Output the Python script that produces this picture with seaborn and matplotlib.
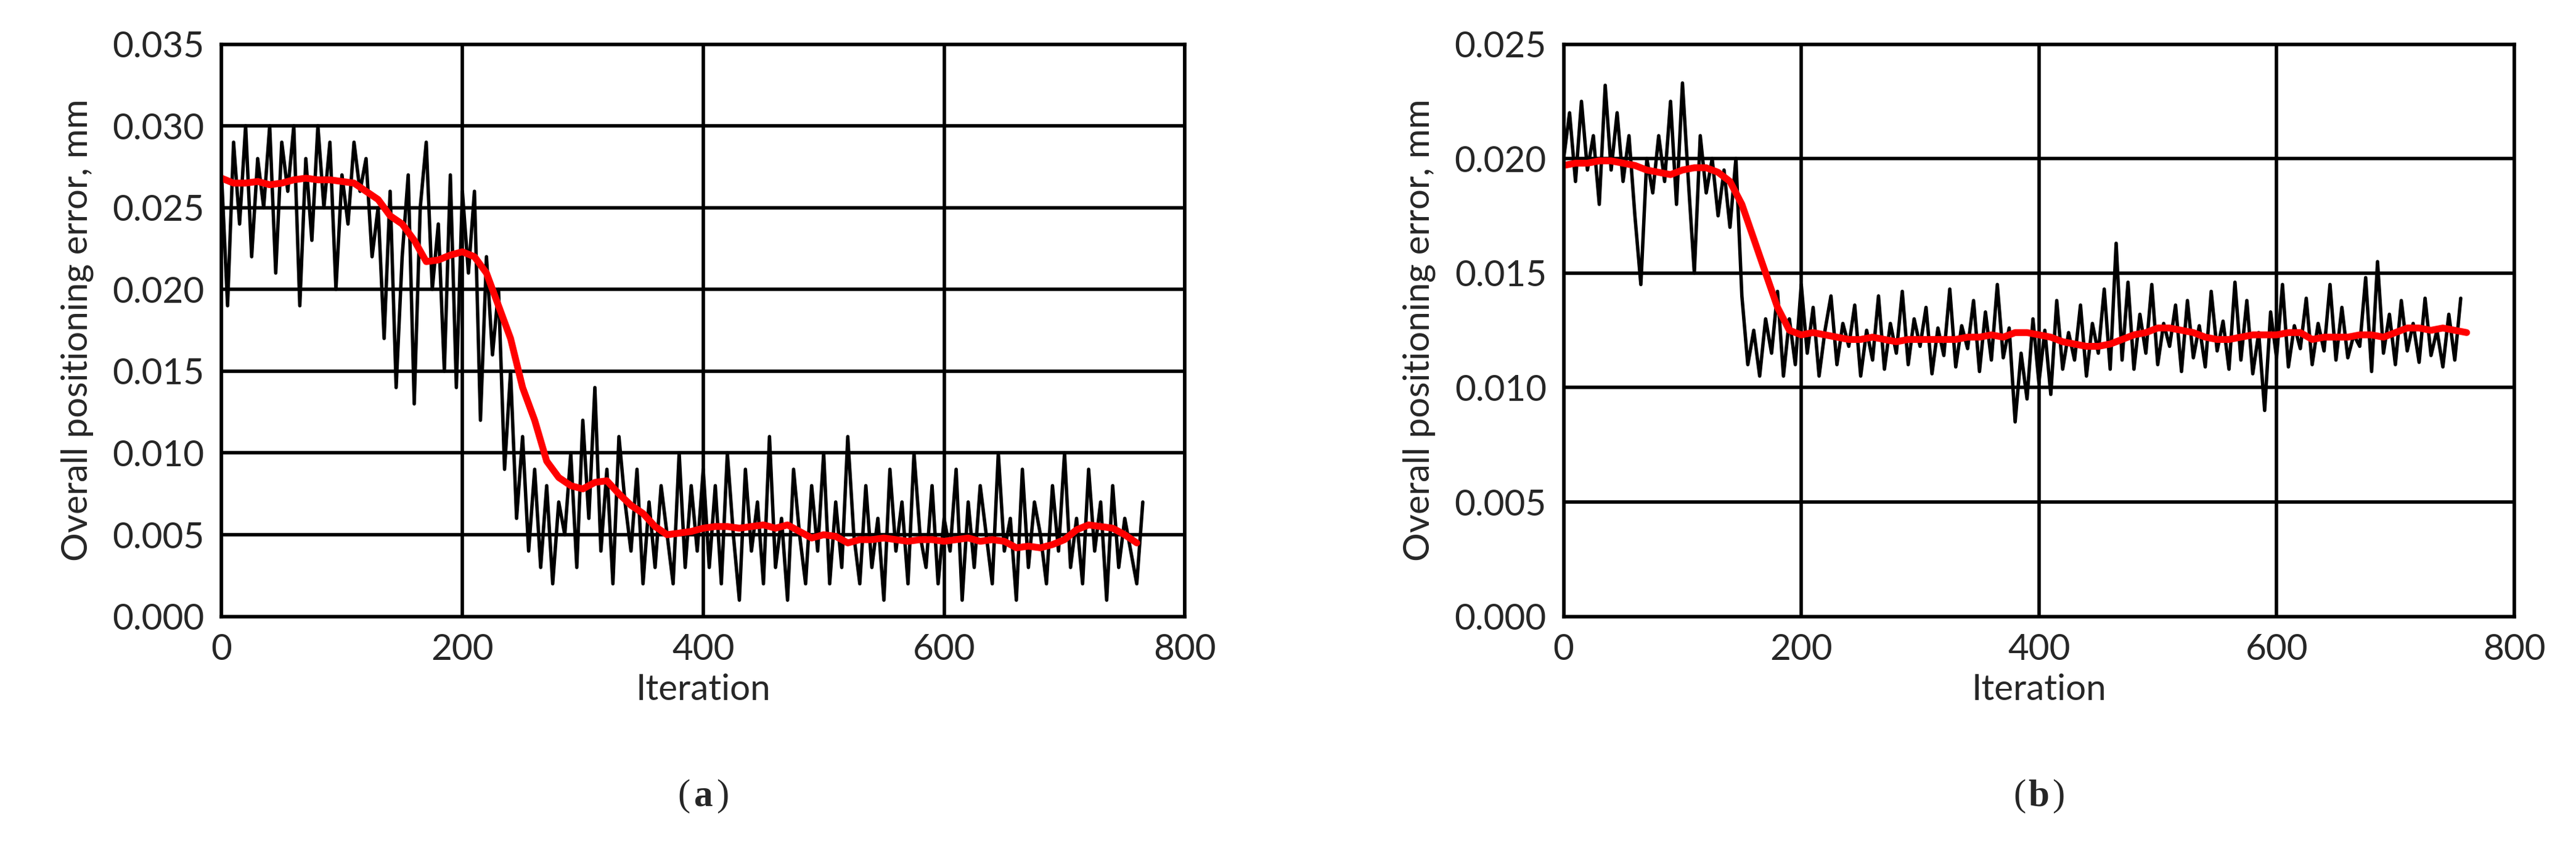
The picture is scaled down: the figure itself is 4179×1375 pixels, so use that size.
import numpy as np
import pandas as pd
import matplotlib
matplotlib.use('Agg')
import matplotlib.pyplot as plt
import seaborn as sns

raw_a = [0.027, 0.019, 0.029, 0.024, 0.030, 0.022, 0.028, 0.025, 0.030, 0.021, 0.029, 0.026, 0.030, 0.019,
         0.028, 0.023, 0.030, 0.025, 0.029, 0.020, 0.027, 0.024, 0.029, 0.026, 0.028, 0.022,
         0.025, 0.017, 0.026, 0.014, 0.022, 0.027, 0.013, 0.025, 0.029, 0.020, 0.024, 0.015, 0.027, 0.014, 0.026, 0.021,
         0.026, 0.012, 0.022, 0.016, 0.020, 0.009, 0.015, 0.006, 0.011,
         0.004, 0.009, 0.003, 0.008, 0.002, 0.007, 0.005, 0.010, 0.003, 0.012, 0.006, 0.014, 0.004, 0.009, 0.002,
         0.011, 0.007, 0.004, 0.009, 0.002, 0.007, 0.003, 0.008, 0.005, 0.002, 0.010, 0.003, 0.008, 0.004, 0.009,
         0.003, 0.008, 0.002, 0.010, 0.005, 0.001, 0.009, 0.004, 0.007, 0.002, 0.011, 0.003, 0.006, 0.001, 0.009,
         0.005, 0.002, 0.008, 0.004, 0.010, 0.002, 0.007, 0.003, 0.011, 0.005, 0.002, 0.008, 0.003, 0.006, 0.001,
         0.009, 0.004, 0.007, 0.002, 0.010, 0.005, 0.003, 0.008, 0.002, 0.006, 0.004, 0.009, 0.001, 0.007, 0.003,
         0.008, 0.005, 0.002, 0.010, 0.004, 0.006, 0.001, 0.009, 0.003, 0.007, 0.005, 0.002, 0.008, 0.004, 0.010,
         0.003, 0.006, 0.002, 0.009, 0.004, 0.007, 0.001, 0.008, 0.003, 0.006, 0.004, 0.002, 0.007]
raw_b = [0.020, 0.022, 0.019, 0.0225, 0.0195, 0.021, 0.018, 0.0232, 0.0195, 0.022, 0.019, 0.021, 0.0175, 0.0145,
         0.020, 0.0185, 0.021, 0.019, 0.0225, 0.018, 0.0233, 0.019, 0.015, 0.021, 0.0185, 0.020, 0.0175, 0.0195,
         0.017, 0.020, 0.014, 0.011, 0.0125, 0.0105, 0.013, 0.0115, 0.0142, 0.0105, 0.013, 0.011, 0.0145,
         0.0115, 0.0135, 0.0105, 0.0125, 0.014, 0.011, 0.0128, 0.0118, 0.0136, 0.0105, 0.0125, 0.0112, 0.014,
         0.0108, 0.0128, 0.0115, 0.0142, 0.011, 0.013, 0.0118, 0.0135, 0.0106, 0.0126, 0.0114, 0.0143, 0.0109,
         0.0127, 0.0117, 0.0138, 0.0107, 0.0133, 0.0112, 0.0145, 0.0113, 0.0126, 0.0085, 0.0115, 0.0095, 0.013,
         0.0102, 0.0125, 0.0097, 0.0138, 0.0108, 0.0124, 0.0112, 0.0136, 0.0105, 0.0128, 0.0115, 0.0143, 0.0108,
         0.0163, 0.0112, 0.0146, 0.0108, 0.0132, 0.0115, 0.0145, 0.011, 0.0128, 0.0118, 0.0136, 0.0107, 0.0138,
         0.0113, 0.0127, 0.0109, 0.0142, 0.0116, 0.0129, 0.0108, 0.0146, 0.0112, 0.0138, 0.0106, 0.0124, 0.009,
         0.0133, 0.0113, 0.0145, 0.0109, 0.0127, 0.0117, 0.0139, 0.011, 0.0128, 0.0116, 0.0145, 0.0112, 0.0135,
         0.0113, 0.0123, 0.0118, 0.0148, 0.0107, 0.0155, 0.0115, 0.0132, 0.011, 0.0138, 0.0116, 0.0128, 0.0111,
         0.0139, 0.0114, 0.0125, 0.0109, 0.0132, 0.0112, 0.0139]

# moving average, sampled every 10 iterations
avg_a = [0.0268, 0.0265, 0.0265, 0.0266, 0.0264, 0.0265, 0.0267, 0.0268, 0.0267, 0.0267, 0.0266, 0.0265, 0.0260,
         0.0255, 0.0245, 0.0240, 0.0230, 0.0217, 0.0218, 0.0221, 0.0223, 0.0220, 0.0210, 0.0190, 0.0170, 0.0140,
         0.0120, 0.0095, 0.0085, 0.0080, 0.0078, 0.0082, 0.0083, 0.0075, 0.0068, 0.0063, 0.0055, 0.0050, 0.0051,
         0.0052, 0.0054, 0.0055, 0.0055, 0.0054, 0.0055, 0.0056, 0.0054, 0.0056, 0.0052, 0.0048, 0.0050, 0.0049,
         0.0045, 0.0047, 0.0047, 0.0048, 0.0047, 0.0046, 0.0047, 0.0047, 0.0046, 0.0047, 0.0048, 0.0046, 0.0047,
         0.0046, 0.0042, 0.0043, 0.0042, 0.0044, 0.0047, 0.0053, 0.0056, 0.0055, 0.0054, 0.0050, 0.0045]
avg_b = [0.0197, 0.0198, 0.0198, 0.0199, 0.0199, 0.0198, 0.0197, 0.0195, 0.0194, 0.0193, 0.0195, 0.0196, 0.0196,
         0.0194, 0.0190, 0.0180, 0.0165, 0.0150, 0.0135, 0.0125, 0.0123, 0.0124, 0.0123, 0.0122, 0.0121, 0.0121,
         0.0122, 0.0121, 0.0120, 0.0121, 0.0121, 0.0121, 0.0121, 0.0121, 0.0122, 0.0122, 0.0123, 0.0122, 0.0124,
         0.0124, 0.0123, 0.0122, 0.0120, 0.0119, 0.0118, 0.0118, 0.0119, 0.0121, 0.0123, 0.0124, 0.0126, 0.0126,
         0.0125, 0.0124, 0.0122, 0.0121, 0.0121, 0.0122, 0.0123, 0.0123, 0.0123, 0.0124, 0.0124, 0.0121, 0.0122,
         0.0122, 0.0122, 0.0123, 0.0123, 0.0122, 0.0124, 0.0126, 0.0126, 0.0125, 0.0126, 0.0125, 0.0124]

y_max_a = 0.035
y_max_b = 0.025
panel_labels = ['a', 'b']

sns.set_style('white')
plt.rcParams['font.family'] = ['Lato', 'DejaVu Sans']

fig = plt.figure(figsize=(41.79, 13.75), dpi=100)
ax_a = fig.add_axes([0.086, 0.273, 0.374, 0.675])
ax_b = fig.add_axes([0.607, 0.273, 0.369, 0.675])

panels = [(ax_a, raw_a, avg_a, y_max_a), (ax_b, raw_b, avg_b, y_max_b)]
for (ax, raw, avg, ymax), lab in zip(panels, panel_labels):
    d_raw = pd.DataFrame({'it': np.arange(len(raw)) * 5, 'err': raw})
    d_avg = pd.DataFrame({'it': np.arange(len(avg)) * 10, 'err': avg})
    sns.lineplot(data=d_raw, x='it', y='err', ax=ax, color='black', lw=4)
    sns.lineplot(data=d_avg, x='it', y='err', ax=ax, color='#ff0000', lw=8)
    ax.set_xlim(0, 800)
    ax.set_ylim(0, ymax)
    ax.set_xticks([0, 200, 400, 600, 800])
    ax.set_yticks(np.arange(0, ymax + 1e-9, 0.005))
    ax.yaxis.set_major_formatter(matplotlib.ticker.FormatStrFormatter('%.3f'))
    ax.grid(True, color='black', lw=4)
    for s in ax.spines.values():
        s.set_color('black')
        s.set_linewidth(4)
    ax.tick_params(labelsize=42, length=0, pad=20)
    ax.set_xlabel('Iteration', fontsize=42, labelpad=8)
    ax.set_ylabel('Overall positioning error, mm', fontsize=42, labelpad=22)
    pos = ax.get_position()
    xc = (pos.x0 + pos.x1) / 2
    fig.text(xc - 0.0075, 0.05, '(', fontsize=44, family='Liberation Serif', ha='center')
    fig.text(xc, 0.05, lab, fontsize=44, family='Liberation Serif', weight='bold', ha='center')
    fig.text(xc + 0.0075, 0.05, ')', fontsize=44, family='Liberation Serif', ha='center')

fig.savefig('out.png', dpi=100, facecolor='white')
